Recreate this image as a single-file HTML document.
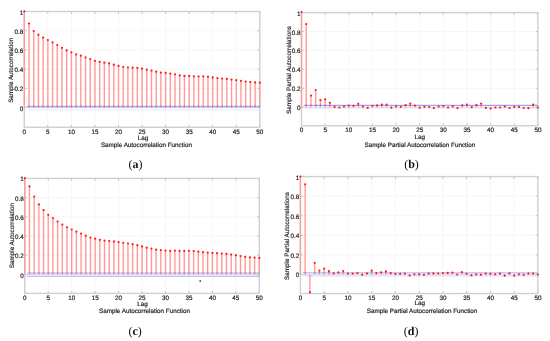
<!DOCTYPE html>
<html><head><meta charset="utf-8"><title>ACF PACF</title>
<style>
html,body{margin:0;padding:0;background:#fff;}
body{width:550px;height:341px;overflow:hidden;}
svg{display:block;text-rendering:geometricPrecision;filter:blur(0.25px);}
.gr{stroke:#f4f4f4;stroke-width:0.8;}
.tk{stroke:#b0b0b0;stroke-width:0.8;}
.bx{fill:none;stroke:#d0d0d0;stroke-width:1.4;}
.bl{stroke:#c8c8c8;stroke-width:0.6;}
.ub{stroke:#9a9aff;stroke-width:1;}
.lb{stroke:#d0d0ff;stroke-width:1;}
.st{stroke:#ff9a9a;stroke-width:1.4;}
.mk{fill:#ff1a1a;}
.t{font-family:"Liberation Sans",Arial,sans-serif;font-size:6.3px;fill:#222;stroke:#222;stroke-width:0.18px;}
.lt{font-family:"Liberation Serif","Times New Roman",serif;font-size:12px;fill:#111;}
</style></head>
<body><svg width="550" height="341" viewBox="0 0 550 341">
<rect width="550" height="341" fill="#fff"/>
<line class="gr" x1="47.85" y1="11.5" x2="47.85" y2="127.3"/>
<line class="gr" x1="71.4" y1="11.5" x2="71.4" y2="127.3"/>
<line class="gr" x1="94.95" y1="11.5" x2="94.95" y2="127.3"/>
<line class="gr" x1="118.5" y1="11.5" x2="118.5" y2="127.3"/>
<line class="gr" x1="142.05" y1="11.5" x2="142.05" y2="127.3"/>
<line class="gr" x1="165.6" y1="11.5" x2="165.6" y2="127.3"/>
<line class="gr" x1="189.15" y1="11.5" x2="189.15" y2="127.3"/>
<line class="gr" x1="212.7" y1="11.5" x2="212.7" y2="127.3"/>
<line class="gr" x1="236.25" y1="11.5" x2="236.25" y2="127.3"/>
<line class="gr" x1="24.3" y1="88.38" x2="259.8" y2="88.38"/>
<line class="gr" x1="24.3" y1="69.16" x2="259.8" y2="69.16"/>
<line class="gr" x1="24.3" y1="49.94" x2="259.8" y2="49.94"/>
<line class="gr" x1="24.3" y1="30.72" x2="259.8" y2="30.72"/>
<line class="tk" x1="24.3" y1="127.3" x2="24.3" y2="125"/>
<line class="tk" x1="24.3" y1="11.5" x2="24.3" y2="13.8"/>
<line class="tk" x1="47.85" y1="127.3" x2="47.85" y2="125"/>
<line class="tk" x1="47.85" y1="11.5" x2="47.85" y2="13.8"/>
<line class="tk" x1="71.4" y1="127.3" x2="71.4" y2="125"/>
<line class="tk" x1="71.4" y1="11.5" x2="71.4" y2="13.8"/>
<line class="tk" x1="94.95" y1="127.3" x2="94.95" y2="125"/>
<line class="tk" x1="94.95" y1="11.5" x2="94.95" y2="13.8"/>
<line class="tk" x1="118.5" y1="127.3" x2="118.5" y2="125"/>
<line class="tk" x1="118.5" y1="11.5" x2="118.5" y2="13.8"/>
<line class="tk" x1="142.05" y1="127.3" x2="142.05" y2="125"/>
<line class="tk" x1="142.05" y1="11.5" x2="142.05" y2="13.8"/>
<line class="tk" x1="165.6" y1="127.3" x2="165.6" y2="125"/>
<line class="tk" x1="165.6" y1="11.5" x2="165.6" y2="13.8"/>
<line class="tk" x1="189.15" y1="127.3" x2="189.15" y2="125"/>
<line class="tk" x1="189.15" y1="11.5" x2="189.15" y2="13.8"/>
<line class="tk" x1="212.7" y1="127.3" x2="212.7" y2="125"/>
<line class="tk" x1="212.7" y1="11.5" x2="212.7" y2="13.8"/>
<line class="tk" x1="236.25" y1="127.3" x2="236.25" y2="125"/>
<line class="tk" x1="236.25" y1="11.5" x2="236.25" y2="13.8"/>
<line class="tk" x1="259.8" y1="127.3" x2="259.8" y2="125"/>
<line class="tk" x1="259.8" y1="11.5" x2="259.8" y2="13.8"/>
<line class="tk" x1="24.3" y1="107.6" x2="26.6" y2="107.6"/>
<line class="tk" x1="259.8" y1="107.6" x2="257.5" y2="107.6"/>
<line class="tk" x1="24.3" y1="88.38" x2="26.6" y2="88.38"/>
<line class="tk" x1="259.8" y1="88.38" x2="257.5" y2="88.38"/>
<line class="tk" x1="24.3" y1="69.16" x2="26.6" y2="69.16"/>
<line class="tk" x1="259.8" y1="69.16" x2="257.5" y2="69.16"/>
<line class="tk" x1="24.3" y1="49.94" x2="26.6" y2="49.94"/>
<line class="tk" x1="259.8" y1="49.94" x2="257.5" y2="49.94"/>
<line class="tk" x1="24.3" y1="30.72" x2="26.6" y2="30.72"/>
<line class="tk" x1="259.8" y1="30.72" x2="257.5" y2="30.72"/>
<line class="tk" x1="24.3" y1="11.5" x2="26.6" y2="11.5"/>
<line class="tk" x1="259.8" y1="11.5" x2="257.5" y2="11.5"/>
<rect class="bx" x="24.3" y="11.5" width="235.5" height="115.8"/>
<line class="bl" x1="24.3" y1="107.6" x2="259.8" y2="107.6"/>
<line class="st" x1="24.3" y1="107.6" x2="24.3" y2="11.4"/>
<line class="st" x1="29.01" y1="107.6" x2="29.01" y2="23.5"/>
<line class="st" x1="33.72" y1="107.6" x2="33.72" y2="31"/>
<line class="st" x1="38.43" y1="107.6" x2="38.43" y2="34.7"/>
<line class="st" x1="43.14" y1="107.6" x2="43.14" y2="37.6"/>
<line class="st" x1="47.85" y1="107.6" x2="47.85" y2="40"/>
<line class="st" x1="52.56" y1="107.6" x2="52.56" y2="42.3"/>
<line class="st" x1="57.27" y1="107.6" x2="57.27" y2="45"/>
<line class="st" x1="61.98" y1="107.6" x2="61.98" y2="47.8"/>
<line class="st" x1="66.69" y1="107.6" x2="66.69" y2="50.4"/>
<line class="st" x1="71.4" y1="107.6" x2="71.4" y2="52.3"/>
<line class="st" x1="76.11" y1="107.6" x2="76.11" y2="54.3"/>
<line class="st" x1="80.82" y1="107.6" x2="80.82" y2="55.7"/>
<line class="st" x1="85.53" y1="107.6" x2="85.53" y2="57.3"/>
<line class="st" x1="90.24" y1="107.6" x2="90.24" y2="59"/>
<line class="st" x1="94.95" y1="107.6" x2="94.95" y2="60.8"/>
<line class="st" x1="99.66" y1="107.6" x2="99.66" y2="61.8"/>
<line class="st" x1="104.37" y1="107.6" x2="104.37" y2="62.7"/>
<line class="st" x1="109.08" y1="107.6" x2="109.08" y2="63.4"/>
<line class="st" x1="113.79" y1="107.6" x2="113.79" y2="64.7"/>
<line class="st" x1="118.5" y1="107.6" x2="118.5" y2="65.9"/>
<line class="st" x1="123.21" y1="107.6" x2="123.21" y2="67"/>
<line class="st" x1="127.92" y1="107.6" x2="127.92" y2="67.5"/>
<line class="st" x1="132.63" y1="107.6" x2="132.63" y2="67.7"/>
<line class="st" x1="137.34" y1="107.6" x2="137.34" y2="67.8"/>
<line class="st" x1="142.05" y1="107.6" x2="142.05" y2="68.7"/>
<line class="st" x1="146.76" y1="107.6" x2="146.76" y2="69.7"/>
<line class="st" x1="151.47" y1="107.6" x2="151.47" y2="70.6"/>
<line class="st" x1="156.18" y1="107.6" x2="156.18" y2="71.7"/>
<line class="st" x1="160.89" y1="107.6" x2="160.89" y2="72.6"/>
<line class="st" x1="165.6" y1="107.6" x2="165.6" y2="72.9"/>
<line class="st" x1="170.31" y1="107.6" x2="170.31" y2="73.6"/>
<line class="st" x1="175.02" y1="107.6" x2="175.02" y2="74.3"/>
<line class="st" x1="179.73" y1="107.6" x2="179.73" y2="75.4"/>
<line class="st" x1="184.44" y1="107.6" x2="184.44" y2="75.9"/>
<line class="st" x1="189.15" y1="107.6" x2="189.15" y2="75.9"/>
<line class="st" x1="193.86" y1="107.6" x2="193.86" y2="76.3"/>
<line class="st" x1="198.57" y1="107.6" x2="198.57" y2="76.5"/>
<line class="st" x1="203.28" y1="107.6" x2="203.28" y2="76.3"/>
<line class="st" x1="207.99" y1="107.6" x2="207.99" y2="76.7"/>
<line class="st" x1="212.7" y1="107.6" x2="212.7" y2="77.4"/>
<line class="st" x1="217.41" y1="107.6" x2="217.41" y2="78.1"/>
<line class="st" x1="222.12" y1="107.6" x2="222.12" y2="78.5"/>
<line class="st" x1="226.83" y1="107.6" x2="226.83" y2="78.9"/>
<line class="st" x1="231.54" y1="107.6" x2="231.54" y2="79.6"/>
<line class="st" x1="236.25" y1="107.6" x2="236.25" y2="80.2"/>
<line class="st" x1="240.96" y1="107.6" x2="240.96" y2="80.8"/>
<line class="st" x1="245.67" y1="107.6" x2="245.67" y2="81.5"/>
<line class="st" x1="250.38" y1="107.6" x2="250.38" y2="82.1"/>
<line class="st" x1="255.09" y1="107.6" x2="255.09" y2="82.4"/>
<line class="st" x1="259.8" y1="107.6" x2="259.8" y2="82.7"/>
<line style="mix-blend-mode:multiply" stroke="#b0b0ff" stroke-width="1.3" x1="26.66" y1="106.5" x2="259.8" y2="106.5"/>
<line style="mix-blend-mode:multiply" stroke="#ececff" stroke-width="1.2" x1="26.66" y1="109.8" x2="259.8" y2="109.8"/>
<circle class="mk" cx="24.3" cy="11.4" r="1.1"/>
<circle class="mk" cx="29.01" cy="23.5" r="1.1"/>
<circle class="mk" cx="33.72" cy="31" r="1.1"/>
<circle class="mk" cx="38.43" cy="34.7" r="1.1"/>
<circle class="mk" cx="43.14" cy="37.6" r="1.1"/>
<circle class="mk" cx="47.85" cy="40" r="1.1"/>
<circle class="mk" cx="52.56" cy="42.3" r="1.1"/>
<circle class="mk" cx="57.27" cy="45" r="1.1"/>
<circle class="mk" cx="61.98" cy="47.8" r="1.1"/>
<circle class="mk" cx="66.69" cy="50.4" r="1.1"/>
<circle class="mk" cx="71.4" cy="52.3" r="1.1"/>
<circle class="mk" cx="76.11" cy="54.3" r="1.1"/>
<circle class="mk" cx="80.82" cy="55.7" r="1.1"/>
<circle class="mk" cx="85.53" cy="57.3" r="1.1"/>
<circle class="mk" cx="90.24" cy="59" r="1.1"/>
<circle class="mk" cx="94.95" cy="60.8" r="1.1"/>
<circle class="mk" cx="99.66" cy="61.8" r="1.1"/>
<circle class="mk" cx="104.37" cy="62.7" r="1.1"/>
<circle class="mk" cx="109.08" cy="63.4" r="1.1"/>
<circle class="mk" cx="113.79" cy="64.7" r="1.1"/>
<circle class="mk" cx="118.5" cy="65.9" r="1.1"/>
<circle class="mk" cx="123.21" cy="67" r="1.1"/>
<circle class="mk" cx="127.92" cy="67.5" r="1.1"/>
<circle class="mk" cx="132.63" cy="67.7" r="1.1"/>
<circle class="mk" cx="137.34" cy="67.8" r="1.1"/>
<circle class="mk" cx="142.05" cy="68.7" r="1.1"/>
<circle class="mk" cx="146.76" cy="69.7" r="1.1"/>
<circle class="mk" cx="151.47" cy="70.6" r="1.1"/>
<circle class="mk" cx="156.18" cy="71.7" r="1.1"/>
<circle class="mk" cx="160.89" cy="72.6" r="1.1"/>
<circle class="mk" cx="165.6" cy="72.9" r="1.1"/>
<circle class="mk" cx="170.31" cy="73.6" r="1.1"/>
<circle class="mk" cx="175.02" cy="74.3" r="1.1"/>
<circle class="mk" cx="179.73" cy="75.4" r="1.1"/>
<circle class="mk" cx="184.44" cy="75.9" r="1.1"/>
<circle class="mk" cx="189.15" cy="75.9" r="1.1"/>
<circle class="mk" cx="193.86" cy="76.3" r="1.1"/>
<circle class="mk" cx="198.57" cy="76.5" r="1.1"/>
<circle class="mk" cx="203.28" cy="76.3" r="1.1"/>
<circle class="mk" cx="207.99" cy="76.7" r="1.1"/>
<circle class="mk" cx="212.7" cy="77.4" r="1.1"/>
<circle class="mk" cx="217.41" cy="78.1" r="1.1"/>
<circle class="mk" cx="222.12" cy="78.5" r="1.1"/>
<circle class="mk" cx="226.83" cy="78.9" r="1.1"/>
<circle class="mk" cx="231.54" cy="79.6" r="1.1"/>
<circle class="mk" cx="236.25" cy="80.2" r="1.1"/>
<circle class="mk" cx="240.96" cy="80.8" r="1.1"/>
<circle class="mk" cx="245.67" cy="81.5" r="1.1"/>
<circle class="mk" cx="250.38" cy="82.1" r="1.1"/>
<circle class="mk" cx="255.09" cy="82.4" r="1.1"/>
<circle class="mk" cx="259.8" cy="82.7" r="1.1"/>
<text class="t" x="23.2" y="110.6" text-anchor="end">0</text>
<text class="t" x="23.2" y="91.38" text-anchor="end">0.2</text>
<text class="t" x="23.2" y="72.16" text-anchor="end">0.4</text>
<text class="t" x="23.2" y="52.94" text-anchor="end">0.6</text>
<text class="t" x="23.2" y="33.72" text-anchor="end">0.8</text>
<text class="t" x="23.2" y="14.5" text-anchor="end">1</text>
<text class="t" x="24.3" y="133.5" text-anchor="middle">0</text>
<text class="t" x="47.85" y="133.5" text-anchor="middle">5</text>
<text class="t" x="71.4" y="133.5" text-anchor="middle">10</text>
<text class="t" x="94.95" y="133.5" text-anchor="middle">15</text>
<text class="t" x="118.5" y="133.5" text-anchor="middle">20</text>
<text class="t" x="142.05" y="133.5" text-anchor="middle">25</text>
<text class="t" x="165.6" y="133.5" text-anchor="middle">30</text>
<text class="t" x="189.15" y="133.5" text-anchor="middle">35</text>
<text class="t" x="212.7" y="133.5" text-anchor="middle">40</text>
<text class="t" x="236.25" y="133.5" text-anchor="middle">45</text>
<text class="t" x="259.8" y="133.5" text-anchor="middle">50</text>
<text class="t" x="142.9" y="139.8" text-anchor="middle">Lag</text>
<text class="t" x="146.4" y="147.4" text-anchor="middle">Sample Autocorrelation Function</text>
<text class="t" transform="translate(13.4 70.3) rotate(-90)" text-anchor="middle">Sample Autocorrelation</text>
<text class="lt" x="135.4" y="167.5" text-anchor="middle">(<tspan font-weight="bold">a</tspan>)</text>
<line class="gr" x1="325.14" y1="12.6" x2="325.14" y2="125.8"/>
<line class="gr" x1="348.78" y1="12.6" x2="348.78" y2="125.8"/>
<line class="gr" x1="372.42" y1="12.6" x2="372.42" y2="125.8"/>
<line class="gr" x1="396.06" y1="12.6" x2="396.06" y2="125.8"/>
<line class="gr" x1="419.7" y1="12.6" x2="419.7" y2="125.8"/>
<line class="gr" x1="443.34" y1="12.6" x2="443.34" y2="125.8"/>
<line class="gr" x1="466.98" y1="12.6" x2="466.98" y2="125.8"/>
<line class="gr" x1="490.62" y1="12.6" x2="490.62" y2="125.8"/>
<line class="gr" x1="514.26" y1="12.6" x2="514.26" y2="125.8"/>
<line class="gr" x1="301.5" y1="88.28" x2="537.9" y2="88.28"/>
<line class="gr" x1="301.5" y1="69.36" x2="537.9" y2="69.36"/>
<line class="gr" x1="301.5" y1="50.44" x2="537.9" y2="50.44"/>
<line class="gr" x1="301.5" y1="31.52" x2="537.9" y2="31.52"/>
<line class="tk" x1="301.5" y1="125.8" x2="301.5" y2="123.5"/>
<line class="tk" x1="301.5" y1="12.6" x2="301.5" y2="14.9"/>
<line class="tk" x1="325.14" y1="125.8" x2="325.14" y2="123.5"/>
<line class="tk" x1="325.14" y1="12.6" x2="325.14" y2="14.9"/>
<line class="tk" x1="348.78" y1="125.8" x2="348.78" y2="123.5"/>
<line class="tk" x1="348.78" y1="12.6" x2="348.78" y2="14.9"/>
<line class="tk" x1="372.42" y1="125.8" x2="372.42" y2="123.5"/>
<line class="tk" x1="372.42" y1="12.6" x2="372.42" y2="14.9"/>
<line class="tk" x1="396.06" y1="125.8" x2="396.06" y2="123.5"/>
<line class="tk" x1="396.06" y1="12.6" x2="396.06" y2="14.9"/>
<line class="tk" x1="419.7" y1="125.8" x2="419.7" y2="123.5"/>
<line class="tk" x1="419.7" y1="12.6" x2="419.7" y2="14.9"/>
<line class="tk" x1="443.34" y1="125.8" x2="443.34" y2="123.5"/>
<line class="tk" x1="443.34" y1="12.6" x2="443.34" y2="14.9"/>
<line class="tk" x1="466.98" y1="125.8" x2="466.98" y2="123.5"/>
<line class="tk" x1="466.98" y1="12.6" x2="466.98" y2="14.9"/>
<line class="tk" x1="490.62" y1="125.8" x2="490.62" y2="123.5"/>
<line class="tk" x1="490.62" y1="12.6" x2="490.62" y2="14.9"/>
<line class="tk" x1="514.26" y1="125.8" x2="514.26" y2="123.5"/>
<line class="tk" x1="514.26" y1="12.6" x2="514.26" y2="14.9"/>
<line class="tk" x1="537.9" y1="125.8" x2="537.9" y2="123.5"/>
<line class="tk" x1="537.9" y1="12.6" x2="537.9" y2="14.9"/>
<line class="tk" x1="301.5" y1="107.2" x2="303.8" y2="107.2"/>
<line class="tk" x1="537.9" y1="107.2" x2="535.6" y2="107.2"/>
<line class="tk" x1="301.5" y1="88.28" x2="303.8" y2="88.28"/>
<line class="tk" x1="537.9" y1="88.28" x2="535.6" y2="88.28"/>
<line class="tk" x1="301.5" y1="69.36" x2="303.8" y2="69.36"/>
<line class="tk" x1="537.9" y1="69.36" x2="535.6" y2="69.36"/>
<line class="tk" x1="301.5" y1="50.44" x2="303.8" y2="50.44"/>
<line class="tk" x1="537.9" y1="50.44" x2="535.6" y2="50.44"/>
<line class="tk" x1="301.5" y1="31.52" x2="303.8" y2="31.52"/>
<line class="tk" x1="537.9" y1="31.52" x2="535.6" y2="31.52"/>
<line class="tk" x1="301.5" y1="12.6" x2="303.8" y2="12.6"/>
<line class="tk" x1="537.9" y1="12.6" x2="535.6" y2="12.6"/>
<rect class="bx" x="301.5" y="12.6" width="236.4" height="113.2"/>
<line class="bl" x1="301.5" y1="107.2" x2="537.9" y2="107.2"/>
<line class="st" x1="301.5" y1="107.2" x2="301.5" y2="12"/>
<line class="st" x1="306.23" y1="107.2" x2="306.23" y2="24.1"/>
<line class="st" x1="310.96" y1="107.2" x2="310.96" y2="95.6"/>
<line class="st" x1="315.68" y1="107.2" x2="315.68" y2="90"/>
<line class="st" x1="320.41" y1="107.2" x2="320.41" y2="100.1"/>
<line class="st" x1="325.14" y1="107.2" x2="325.14" y2="99.3"/>
<line class="st" x1="329.87" y1="107.2" x2="329.87" y2="102.8"/>
<line class="st" x1="334.6" y1="107.2" x2="334.6" y2="106.9"/>
<line class="st" x1="339.32" y1="107.2" x2="339.32" y2="107.5"/>
<line class="st" x1="344.05" y1="107.2" x2="344.05" y2="106.5"/>
<line class="st" x1="348.78" y1="107.2" x2="348.78" y2="105.6"/>
<line class="st" x1="353.51" y1="107.2" x2="353.51" y2="105.8"/>
<line class="st" x1="358.24" y1="107.2" x2="358.24" y2="103.8"/>
<line class="st" x1="362.96" y1="107.2" x2="362.96" y2="106.5"/>
<line class="st" x1="367.69" y1="107.2" x2="367.69" y2="107.9"/>
<line class="st" x1="372.42" y1="107.2" x2="372.42" y2="105.8"/>
<line class="st" x1="377.15" y1="107.2" x2="377.15" y2="105.4"/>
<line class="st" x1="381.88" y1="107.2" x2="381.88" y2="104.7"/>
<line class="st" x1="386.6" y1="107.2" x2="386.6" y2="104.6"/>
<line class="st" x1="391.33" y1="107.2" x2="391.33" y2="107.7"/>
<line class="st" x1="396.06" y1="107.2" x2="396.06" y2="106.4"/>
<line class="st" x1="400.79" y1="107.2" x2="400.79" y2="106.8"/>
<line class="st" x1="405.52" y1="107.2" x2="405.52" y2="105.2"/>
<line class="st" x1="410.24" y1="107.2" x2="410.24" y2="103.6"/>
<line class="st" x1="414.97" y1="107.2" x2="414.97" y2="105.5"/>
<line class="st" x1="419.7" y1="107.2" x2="419.7" y2="107.7"/>
<line class="st" x1="424.43" y1="107.2" x2="424.43" y2="106.8"/>
<line class="st" x1="429.16" y1="107.2" x2="429.16" y2="107"/>
<line class="st" x1="433.88" y1="107.2" x2="433.88" y2="108.1"/>
<line class="st" x1="438.61" y1="107.2" x2="438.61" y2="106.5"/>
<line class="st" x1="443.34" y1="107.2" x2="443.34" y2="106.1"/>
<line class="st" x1="448.07" y1="107.2" x2="448.07" y2="107.5"/>
<line class="st" x1="452.8" y1="107.2" x2="452.8" y2="106.3"/>
<line class="st" x1="457.52" y1="107.2" x2="457.52" y2="108.1"/>
<line class="st" x1="462.25" y1="107.2" x2="462.25" y2="105.4"/>
<line class="st" x1="466.98" y1="107.2" x2="466.98" y2="104.5"/>
<line class="st" x1="471.71" y1="107.2" x2="471.71" y2="107.2"/>
<line class="st" x1="476.44" y1="107.2" x2="476.44" y2="105.2"/>
<line class="st" x1="481.16" y1="107.2" x2="481.16" y2="103.6"/>
<line class="st" x1="485.89" y1="107.2" x2="485.89" y2="107.9"/>
<line class="st" x1="490.62" y1="107.2" x2="490.62" y2="108.6"/>
<line class="st" x1="495.35" y1="107.2" x2="495.35" y2="107.5"/>
<line class="st" x1="500.08" y1="107.2" x2="500.08" y2="107.5"/>
<line class="st" x1="504.8" y1="107.2" x2="504.8" y2="106.5"/>
<line class="st" x1="509.53" y1="107.2" x2="509.53" y2="108.1"/>
<line class="st" x1="514.26" y1="107.2" x2="514.26" y2="106.9"/>
<line class="st" x1="518.99" y1="107.2" x2="518.99" y2="106.9"/>
<line class="st" x1="523.72" y1="107.2" x2="523.72" y2="108"/>
<line class="st" x1="528.44" y1="107.2" x2="528.44" y2="108.2"/>
<line class="st" x1="533.17" y1="107.2" x2="533.17" y2="104.7"/>
<line class="st" x1="537.9" y1="107.2" x2="537.9" y2="107.5"/>
<line style="mix-blend-mode:multiply" stroke="#a0a0ff" stroke-width="1.2" x1="303.86" y1="105.35" x2="537.9" y2="105.35"/>
<line style="mix-blend-mode:multiply" stroke="#ececff" stroke-width="1.2" x1="303.86" y1="108.3" x2="537.9" y2="108.3"/>
<circle class="mk" cx="301.5" cy="12" r="1.1"/>
<circle class="mk" cx="306.23" cy="24.1" r="1.1"/>
<circle class="mk" cx="310.96" cy="95.6" r="1.1"/>
<circle class="mk" cx="315.68" cy="90" r="1.1"/>
<circle class="mk" cx="320.41" cy="100.1" r="1.1"/>
<circle class="mk" cx="325.14" cy="99.3" r="1.1"/>
<circle class="mk" cx="329.87" cy="102.8" r="1.1"/>
<circle class="mk" cx="334.6" cy="106.9" r="1.1"/>
<circle class="mk" cx="339.32" cy="107.5" r="1.1"/>
<circle class="mk" cx="344.05" cy="106.5" r="1.1"/>
<circle class="mk" cx="348.78" cy="105.6" r="1.1"/>
<circle class="mk" cx="353.51" cy="105.8" r="1.1"/>
<circle class="mk" cx="358.24" cy="103.8" r="1.1"/>
<circle class="mk" cx="362.96" cy="106.5" r="1.1"/>
<circle class="mk" cx="367.69" cy="107.9" r="1.1"/>
<circle class="mk" cx="372.42" cy="105.8" r="1.1"/>
<circle class="mk" cx="377.15" cy="105.4" r="1.1"/>
<circle class="mk" cx="381.88" cy="104.7" r="1.1"/>
<circle class="mk" cx="386.6" cy="104.6" r="1.1"/>
<circle class="mk" cx="391.33" cy="107.7" r="1.1"/>
<circle class="mk" cx="396.06" cy="106.4" r="1.1"/>
<circle class="mk" cx="400.79" cy="106.8" r="1.1"/>
<circle class="mk" cx="405.52" cy="105.2" r="1.1"/>
<circle class="mk" cx="410.24" cy="103.6" r="1.1"/>
<circle class="mk" cx="414.97" cy="105.5" r="1.1"/>
<circle class="mk" cx="419.7" cy="107.7" r="1.1"/>
<circle class="mk" cx="424.43" cy="106.8" r="1.1"/>
<circle class="mk" cx="429.16" cy="107" r="1.1"/>
<circle class="mk" cx="433.88" cy="108.1" r="1.1"/>
<circle class="mk" cx="438.61" cy="106.5" r="1.1"/>
<circle class="mk" cx="443.34" cy="106.1" r="1.1"/>
<circle class="mk" cx="448.07" cy="107.5" r="1.1"/>
<circle class="mk" cx="452.8" cy="106.3" r="1.1"/>
<circle class="mk" cx="457.52" cy="108.1" r="1.1"/>
<circle class="mk" cx="462.25" cy="105.4" r="1.1"/>
<circle class="mk" cx="466.98" cy="104.5" r="1.1"/>
<circle class="mk" cx="471.71" cy="107.2" r="1.1"/>
<circle class="mk" cx="476.44" cy="105.2" r="1.1"/>
<circle class="mk" cx="481.16" cy="103.6" r="1.1"/>
<circle class="mk" cx="485.89" cy="107.9" r="1.1"/>
<circle class="mk" cx="490.62" cy="108.6" r="1.1"/>
<circle class="mk" cx="495.35" cy="107.5" r="1.1"/>
<circle class="mk" cx="500.08" cy="107.5" r="1.1"/>
<circle class="mk" cx="504.8" cy="106.5" r="1.1"/>
<circle class="mk" cx="509.53" cy="108.1" r="1.1"/>
<circle class="mk" cx="514.26" cy="106.9" r="1.1"/>
<circle class="mk" cx="518.99" cy="106.9" r="1.1"/>
<circle class="mk" cx="523.72" cy="108" r="1.1"/>
<circle class="mk" cx="528.44" cy="108.2" r="1.1"/>
<circle class="mk" cx="533.17" cy="104.7" r="1.1"/>
<circle class="mk" cx="537.9" cy="107.5" r="1.1"/>
<text class="t" x="300.4" y="110.2" text-anchor="end">0</text>
<text class="t" x="300.4" y="91.28" text-anchor="end">0.2</text>
<text class="t" x="300.4" y="72.36" text-anchor="end">0.4</text>
<text class="t" x="300.4" y="53.44" text-anchor="end">0.6</text>
<text class="t" x="300.4" y="34.52" text-anchor="end">0.8</text>
<text class="t" x="300.4" y="15.6" text-anchor="end">1</text>
<text class="t" x="301.5" y="131.7" text-anchor="middle">0</text>
<text class="t" x="325.14" y="131.7" text-anchor="middle">5</text>
<text class="t" x="348.78" y="131.7" text-anchor="middle">10</text>
<text class="t" x="372.42" y="131.7" text-anchor="middle">15</text>
<text class="t" x="396.06" y="131.7" text-anchor="middle">20</text>
<text class="t" x="419.7" y="131.7" text-anchor="middle">25</text>
<text class="t" x="443.34" y="131.7" text-anchor="middle">30</text>
<text class="t" x="466.98" y="131.7" text-anchor="middle">35</text>
<text class="t" x="490.62" y="131.7" text-anchor="middle">40</text>
<text class="t" x="514.26" y="131.7" text-anchor="middle">45</text>
<text class="t" x="537.9" y="131.7" text-anchor="middle">50</text>
<text class="t" x="419.8" y="138.7" text-anchor="middle">Lag</text>
<text class="t" x="419.9" y="147.4" text-anchor="middle">Sample Partial Autocorrelation Function</text>
<text class="t" transform="translate(290.6 70.1) rotate(-90)" text-anchor="middle">Sample Partial Autocorrelations</text>
<text class="lt" x="411.5" y="167.5" text-anchor="middle">(<tspan font-weight="bold">b</tspan>)</text>
<line class="gr" x1="48.25" y1="178.4" x2="48.25" y2="293.4"/>
<line class="gr" x1="71.7" y1="178.4" x2="71.7" y2="293.4"/>
<line class="gr" x1="95.15" y1="178.4" x2="95.15" y2="293.4"/>
<line class="gr" x1="118.6" y1="178.4" x2="118.6" y2="293.4"/>
<line class="gr" x1="142.05" y1="178.4" x2="142.05" y2="293.4"/>
<line class="gr" x1="165.5" y1="178.4" x2="165.5" y2="293.4"/>
<line class="gr" x1="188.95" y1="178.4" x2="188.95" y2="293.4"/>
<line class="gr" x1="212.4" y1="178.4" x2="212.4" y2="293.4"/>
<line class="gr" x1="235.85" y1="178.4" x2="235.85" y2="293.4"/>
<line class="gr" x1="24.8" y1="255.28" x2="259.3" y2="255.28"/>
<line class="gr" x1="24.8" y1="236.06" x2="259.3" y2="236.06"/>
<line class="gr" x1="24.8" y1="216.84" x2="259.3" y2="216.84"/>
<line class="gr" x1="24.8" y1="197.62" x2="259.3" y2="197.62"/>
<line class="tk" x1="24.8" y1="293.4" x2="24.8" y2="291.1"/>
<line class="tk" x1="24.8" y1="178.4" x2="24.8" y2="180.7"/>
<line class="tk" x1="48.25" y1="293.4" x2="48.25" y2="291.1"/>
<line class="tk" x1="48.25" y1="178.4" x2="48.25" y2="180.7"/>
<line class="tk" x1="71.7" y1="293.4" x2="71.7" y2="291.1"/>
<line class="tk" x1="71.7" y1="178.4" x2="71.7" y2="180.7"/>
<line class="tk" x1="95.15" y1="293.4" x2="95.15" y2="291.1"/>
<line class="tk" x1="95.15" y1="178.4" x2="95.15" y2="180.7"/>
<line class="tk" x1="118.6" y1="293.4" x2="118.6" y2="291.1"/>
<line class="tk" x1="118.6" y1="178.4" x2="118.6" y2="180.7"/>
<line class="tk" x1="142.05" y1="293.4" x2="142.05" y2="291.1"/>
<line class="tk" x1="142.05" y1="178.4" x2="142.05" y2="180.7"/>
<line class="tk" x1="165.5" y1="293.4" x2="165.5" y2="291.1"/>
<line class="tk" x1="165.5" y1="178.4" x2="165.5" y2="180.7"/>
<line class="tk" x1="188.95" y1="293.4" x2="188.95" y2="291.1"/>
<line class="tk" x1="188.95" y1="178.4" x2="188.95" y2="180.7"/>
<line class="tk" x1="212.4" y1="293.4" x2="212.4" y2="291.1"/>
<line class="tk" x1="212.4" y1="178.4" x2="212.4" y2="180.7"/>
<line class="tk" x1="235.85" y1="293.4" x2="235.85" y2="291.1"/>
<line class="tk" x1="235.85" y1="178.4" x2="235.85" y2="180.7"/>
<line class="tk" x1="259.3" y1="293.4" x2="259.3" y2="291.1"/>
<line class="tk" x1="259.3" y1="178.4" x2="259.3" y2="180.7"/>
<line class="tk" x1="24.8" y1="274.5" x2="27.1" y2="274.5"/>
<line class="tk" x1="259.3" y1="274.5" x2="257" y2="274.5"/>
<line class="tk" x1="24.8" y1="255.28" x2="27.1" y2="255.28"/>
<line class="tk" x1="259.3" y1="255.28" x2="257" y2="255.28"/>
<line class="tk" x1="24.8" y1="236.06" x2="27.1" y2="236.06"/>
<line class="tk" x1="259.3" y1="236.06" x2="257" y2="236.06"/>
<line class="tk" x1="24.8" y1="216.84" x2="27.1" y2="216.84"/>
<line class="tk" x1="259.3" y1="216.84" x2="257" y2="216.84"/>
<line class="tk" x1="24.8" y1="197.62" x2="27.1" y2="197.62"/>
<line class="tk" x1="259.3" y1="197.62" x2="257" y2="197.62"/>
<line class="tk" x1="24.8" y1="178.4" x2="27.1" y2="178.4"/>
<line class="tk" x1="259.3" y1="178.4" x2="257" y2="178.4"/>
<rect class="bx" x="24.8" y="178.4" width="234.5" height="115"/>
<line class="bl" x1="24.8" y1="274.5" x2="259.3" y2="274.5"/>
<line class="st" x1="24.8" y1="274.5" x2="24.8" y2="178.2"/>
<line class="st" x1="29.49" y1="274.5" x2="29.49" y2="186.4"/>
<line class="st" x1="34.18" y1="274.5" x2="34.18" y2="196.6"/>
<line class="st" x1="38.87" y1="274.5" x2="38.87" y2="204.4"/>
<line class="st" x1="43.56" y1="274.5" x2="43.56" y2="210.2"/>
<line class="st" x1="48.25" y1="274.5" x2="48.25" y2="214.8"/>
<line class="st" x1="52.94" y1="274.5" x2="52.94" y2="218.1"/>
<line class="st" x1="57.63" y1="274.5" x2="57.63" y2="221.5"/>
<line class="st" x1="62.32" y1="274.5" x2="62.32" y2="224.6"/>
<line class="st" x1="67.01" y1="274.5" x2="67.01" y2="227.3"/>
<line class="st" x1="71.7" y1="274.5" x2="71.7" y2="229.5"/>
<line class="st" x1="76.39" y1="274.5" x2="76.39" y2="231.7"/>
<line class="st" x1="81.08" y1="274.5" x2="81.08" y2="233.6"/>
<line class="st" x1="85.77" y1="274.5" x2="85.77" y2="235.7"/>
<line class="st" x1="90.46" y1="274.5" x2="90.46" y2="237.5"/>
<line class="st" x1="95.15" y1="274.5" x2="95.15" y2="238.7"/>
<line class="st" x1="99.84" y1="274.5" x2="99.84" y2="239.8"/>
<line class="st" x1="104.53" y1="274.5" x2="104.53" y2="240.6"/>
<line class="st" x1="109.22" y1="274.5" x2="109.22" y2="241"/>
<line class="st" x1="113.91" y1="274.5" x2="113.91" y2="241.4"/>
<line class="st" x1="118.6" y1="274.5" x2="118.6" y2="242.1"/>
<line class="st" x1="123.29" y1="274.5" x2="123.29" y2="242.8"/>
<line class="st" x1="127.98" y1="274.5" x2="127.98" y2="243.5"/>
<line class="st" x1="132.67" y1="274.5" x2="132.67" y2="244.2"/>
<line class="st" x1="137.36" y1="274.5" x2="137.36" y2="245.2"/>
<line class="st" x1="142.05" y1="274.5" x2="142.05" y2="246.4"/>
<line class="st" x1="146.74" y1="274.5" x2="146.74" y2="247.7"/>
<line class="st" x1="151.43" y1="274.5" x2="151.43" y2="248.5"/>
<line class="st" x1="156.12" y1="274.5" x2="156.12" y2="249.6"/>
<line class="st" x1="160.81" y1="274.5" x2="160.81" y2="250.1"/>
<line class="st" x1="165.5" y1="274.5" x2="165.5" y2="250.6"/>
<line class="st" x1="170.19" y1="274.5" x2="170.19" y2="250.8"/>
<line class="st" x1="174.88" y1="274.5" x2="174.88" y2="250.6"/>
<line class="st" x1="179.57" y1="274.5" x2="179.57" y2="250.8"/>
<line class="st" x1="184.26" y1="274.5" x2="184.26" y2="250.9"/>
<line class="st" x1="188.95" y1="274.5" x2="188.95" y2="250.8"/>
<line class="st" x1="193.64" y1="274.5" x2="193.64" y2="251.1"/>
<line class="st" x1="198.33" y1="274.5" x2="198.33" y2="251.7"/>
<line class="st" x1="203.02" y1="274.5" x2="203.02" y2="252.2"/>
<line class="st" x1="207.71" y1="274.5" x2="207.71" y2="252.6"/>
<line class="st" x1="212.4" y1="274.5" x2="212.4" y2="252.9"/>
<line class="st" x1="217.09" y1="274.5" x2="217.09" y2="253.2"/>
<line class="st" x1="221.78" y1="274.5" x2="221.78" y2="253.5"/>
<line class="st" x1="226.47" y1="274.5" x2="226.47" y2="253.9"/>
<line class="st" x1="231.16" y1="274.5" x2="231.16" y2="254.6"/>
<line class="st" x1="235.85" y1="274.5" x2="235.85" y2="255.2"/>
<line class="st" x1="240.54" y1="274.5" x2="240.54" y2="256"/>
<line class="st" x1="245.23" y1="274.5" x2="245.23" y2="256.8"/>
<line class="st" x1="249.92" y1="274.5" x2="249.92" y2="257.3"/>
<line class="st" x1="254.61" y1="274.5" x2="254.61" y2="257.6"/>
<line class="st" x1="259.3" y1="274.5" x2="259.3" y2="257.9"/>
<line style="mix-blend-mode:multiply" stroke="#d4d4ff" stroke-width="2.0" x1="27.14" y1="273" x2="259.3" y2="273"/>
<line style="mix-blend-mode:multiply" stroke="#a8a8ff" stroke-width="1.1" x1="27.14" y1="276.2" x2="259.3" y2="276.2"/>
<circle class="mk" cx="24.8" cy="178.2" r="1.1"/>
<circle class="mk" cx="29.49" cy="186.4" r="1.1"/>
<circle class="mk" cx="34.18" cy="196.6" r="1.1"/>
<circle class="mk" cx="38.87" cy="204.4" r="1.1"/>
<circle class="mk" cx="43.56" cy="210.2" r="1.1"/>
<circle class="mk" cx="48.25" cy="214.8" r="1.1"/>
<circle class="mk" cx="52.94" cy="218.1" r="1.1"/>
<circle class="mk" cx="57.63" cy="221.5" r="1.1"/>
<circle class="mk" cx="62.32" cy="224.6" r="1.1"/>
<circle class="mk" cx="67.01" cy="227.3" r="1.1"/>
<circle class="mk" cx="71.7" cy="229.5" r="1.1"/>
<circle class="mk" cx="76.39" cy="231.7" r="1.1"/>
<circle class="mk" cx="81.08" cy="233.6" r="1.1"/>
<circle class="mk" cx="85.77" cy="235.7" r="1.1"/>
<circle class="mk" cx="90.46" cy="237.5" r="1.1"/>
<circle class="mk" cx="95.15" cy="238.7" r="1.1"/>
<circle class="mk" cx="99.84" cy="239.8" r="1.1"/>
<circle class="mk" cx="104.53" cy="240.6" r="1.1"/>
<circle class="mk" cx="109.22" cy="241" r="1.1"/>
<circle class="mk" cx="113.91" cy="241.4" r="1.1"/>
<circle class="mk" cx="118.6" cy="242.1" r="1.1"/>
<circle class="mk" cx="123.29" cy="242.8" r="1.1"/>
<circle class="mk" cx="127.98" cy="243.5" r="1.1"/>
<circle class="mk" cx="132.67" cy="244.2" r="1.1"/>
<circle class="mk" cx="137.36" cy="245.2" r="1.1"/>
<circle class="mk" cx="142.05" cy="246.4" r="1.1"/>
<circle class="mk" cx="146.74" cy="247.7" r="1.1"/>
<circle class="mk" cx="151.43" cy="248.5" r="1.1"/>
<circle class="mk" cx="156.12" cy="249.6" r="1.1"/>
<circle class="mk" cx="160.81" cy="250.1" r="1.1"/>
<circle class="mk" cx="165.5" cy="250.6" r="1.1"/>
<circle class="mk" cx="170.19" cy="250.8" r="1.1"/>
<circle class="mk" cx="174.88" cy="250.6" r="1.1"/>
<circle class="mk" cx="179.57" cy="250.8" r="1.1"/>
<circle class="mk" cx="184.26" cy="250.9" r="1.1"/>
<circle class="mk" cx="188.95" cy="250.8" r="1.1"/>
<circle class="mk" cx="193.64" cy="251.1" r="1.1"/>
<circle class="mk" cx="198.33" cy="251.7" r="1.1"/>
<circle class="mk" cx="203.02" cy="252.2" r="1.1"/>
<circle class="mk" cx="207.71" cy="252.6" r="1.1"/>
<circle class="mk" cx="212.4" cy="252.9" r="1.1"/>
<circle class="mk" cx="217.09" cy="253.2" r="1.1"/>
<circle class="mk" cx="221.78" cy="253.5" r="1.1"/>
<circle class="mk" cx="226.47" cy="253.9" r="1.1"/>
<circle class="mk" cx="231.16" cy="254.6" r="1.1"/>
<circle class="mk" cx="235.85" cy="255.2" r="1.1"/>
<circle class="mk" cx="240.54" cy="256" r="1.1"/>
<circle class="mk" cx="245.23" cy="256.8" r="1.1"/>
<circle class="mk" cx="249.92" cy="257.3" r="1.1"/>
<circle class="mk" cx="254.61" cy="257.6" r="1.1"/>
<circle class="mk" cx="259.3" cy="257.9" r="1.1"/>
<text class="t" x="23.7" y="277.5" text-anchor="end">0</text>
<text class="t" x="23.7" y="258.28" text-anchor="end">0.2</text>
<text class="t" x="23.7" y="239.06" text-anchor="end">0.4</text>
<text class="t" x="23.7" y="219.84" text-anchor="end">0.6</text>
<text class="t" x="23.7" y="200.62" text-anchor="end">0.8</text>
<text class="t" x="23.7" y="181.4" text-anchor="end">1</text>
<text class="t" x="24.8" y="299.5" text-anchor="middle">0</text>
<text class="t" x="48.25" y="299.5" text-anchor="middle">5</text>
<text class="t" x="71.7" y="299.5" text-anchor="middle">10</text>
<text class="t" x="95.15" y="299.5" text-anchor="middle">15</text>
<text class="t" x="118.6" y="299.5" text-anchor="middle">20</text>
<text class="t" x="142.05" y="299.5" text-anchor="middle">25</text>
<text class="t" x="165.5" y="299.5" text-anchor="middle">30</text>
<text class="t" x="188.95" y="299.5" text-anchor="middle">35</text>
<text class="t" x="212.4" y="299.5" text-anchor="middle">40</text>
<text class="t" x="235.85" y="299.5" text-anchor="middle">45</text>
<text class="t" x="259.3" y="299.5" text-anchor="middle">50</text>
<text class="t" x="142.6" y="305.6" text-anchor="middle">Lag</text>
<text class="t" x="144.5" y="312.5" text-anchor="middle">Sample Autocorrelation Function</text>
<text class="t" transform="translate(13.9 235.6) rotate(-90)" text-anchor="middle">Sample Autocorrelation</text>
<text class="lt" x="135.2" y="335" text-anchor="middle">(<tspan font-weight="bold">c</tspan>)</text>
<line class="gr" x1="324.15" y1="176.6" x2="324.15" y2="293.5"/>
<line class="gr" x1="347.9" y1="176.6" x2="347.9" y2="293.5"/>
<line class="gr" x1="371.65" y1="176.6" x2="371.65" y2="293.5"/>
<line class="gr" x1="395.4" y1="176.6" x2="395.4" y2="293.5"/>
<line class="gr" x1="419.15" y1="176.6" x2="419.15" y2="293.5"/>
<line class="gr" x1="442.9" y1="176.6" x2="442.9" y2="293.5"/>
<line class="gr" x1="466.65" y1="176.6" x2="466.65" y2="293.5"/>
<line class="gr" x1="490.4" y1="176.6" x2="490.4" y2="293.5"/>
<line class="gr" x1="514.15" y1="176.6" x2="514.15" y2="293.5"/>
<line class="gr" x1="300.4" y1="254.84" x2="537.9" y2="254.84"/>
<line class="gr" x1="300.4" y1="235.28" x2="537.9" y2="235.28"/>
<line class="gr" x1="300.4" y1="215.72" x2="537.9" y2="215.72"/>
<line class="gr" x1="300.4" y1="196.16" x2="537.9" y2="196.16"/>
<line class="tk" x1="300.4" y1="293.5" x2="300.4" y2="291.2"/>
<line class="tk" x1="300.4" y1="176.6" x2="300.4" y2="178.9"/>
<line class="tk" x1="324.15" y1="293.5" x2="324.15" y2="291.2"/>
<line class="tk" x1="324.15" y1="176.6" x2="324.15" y2="178.9"/>
<line class="tk" x1="347.9" y1="293.5" x2="347.9" y2="291.2"/>
<line class="tk" x1="347.9" y1="176.6" x2="347.9" y2="178.9"/>
<line class="tk" x1="371.65" y1="293.5" x2="371.65" y2="291.2"/>
<line class="tk" x1="371.65" y1="176.6" x2="371.65" y2="178.9"/>
<line class="tk" x1="395.4" y1="293.5" x2="395.4" y2="291.2"/>
<line class="tk" x1="395.4" y1="176.6" x2="395.4" y2="178.9"/>
<line class="tk" x1="419.15" y1="293.5" x2="419.15" y2="291.2"/>
<line class="tk" x1="419.15" y1="176.6" x2="419.15" y2="178.9"/>
<line class="tk" x1="442.9" y1="293.5" x2="442.9" y2="291.2"/>
<line class="tk" x1="442.9" y1="176.6" x2="442.9" y2="178.9"/>
<line class="tk" x1="466.65" y1="293.5" x2="466.65" y2="291.2"/>
<line class="tk" x1="466.65" y1="176.6" x2="466.65" y2="178.9"/>
<line class="tk" x1="490.4" y1="293.5" x2="490.4" y2="291.2"/>
<line class="tk" x1="490.4" y1="176.6" x2="490.4" y2="178.9"/>
<line class="tk" x1="514.15" y1="293.5" x2="514.15" y2="291.2"/>
<line class="tk" x1="514.15" y1="176.6" x2="514.15" y2="178.9"/>
<line class="tk" x1="537.9" y1="293.5" x2="537.9" y2="291.2"/>
<line class="tk" x1="537.9" y1="176.6" x2="537.9" y2="178.9"/>
<line class="tk" x1="300.4" y1="274.4" x2="302.7" y2="274.4"/>
<line class="tk" x1="537.9" y1="274.4" x2="535.6" y2="274.4"/>
<line class="tk" x1="300.4" y1="254.84" x2="302.7" y2="254.84"/>
<line class="tk" x1="537.9" y1="254.84" x2="535.6" y2="254.84"/>
<line class="tk" x1="300.4" y1="235.28" x2="302.7" y2="235.28"/>
<line class="tk" x1="537.9" y1="235.28" x2="535.6" y2="235.28"/>
<line class="tk" x1="300.4" y1="215.72" x2="302.7" y2="215.72"/>
<line class="tk" x1="537.9" y1="215.72" x2="535.6" y2="215.72"/>
<line class="tk" x1="300.4" y1="196.16" x2="302.7" y2="196.16"/>
<line class="tk" x1="537.9" y1="196.16" x2="535.6" y2="196.16"/>
<line class="tk" x1="300.4" y1="176.6" x2="302.7" y2="176.6"/>
<line class="tk" x1="537.9" y1="176.6" x2="535.6" y2="176.6"/>
<rect class="bx" x="300.4" y="176.6" width="237.5" height="116.9"/>
<line class="bl" x1="300.4" y1="274.4" x2="537.9" y2="274.4"/>
<line class="st" x1="300.4" y1="274.4" x2="300.4" y2="176.5"/>
<line class="st" x1="305.15" y1="274.4" x2="305.15" y2="184.3"/>
<line class="st" x1="309.9" y1="274.4" x2="309.9" y2="292.3"/>
<line class="st" x1="314.65" y1="274.4" x2="314.65" y2="262.8"/>
<line class="st" x1="319.4" y1="274.4" x2="319.4" y2="270.6"/>
<line class="st" x1="324.15" y1="274.4" x2="324.15" y2="268.6"/>
<line class="st" x1="328.9" y1="274.4" x2="328.9" y2="271.2"/>
<line class="st" x1="333.65" y1="274.4" x2="333.65" y2="273.3"/>
<line class="st" x1="338.4" y1="274.4" x2="338.4" y2="272.4"/>
<line class="st" x1="343.15" y1="274.4" x2="343.15" y2="271"/>
<line class="st" x1="347.9" y1="274.4" x2="347.9" y2="273.6"/>
<line class="st" x1="352.65" y1="274.4" x2="352.65" y2="273.6"/>
<line class="st" x1="357.4" y1="274.4" x2="357.4" y2="273"/>
<line class="st" x1="362.15" y1="274.4" x2="362.15" y2="274.7"/>
<line class="st" x1="366.9" y1="274.4" x2="366.9" y2="273.4"/>
<line class="st" x1="371.65" y1="274.4" x2="371.65" y2="270.7"/>
<line class="st" x1="376.4" y1="274.4" x2="376.4" y2="273.2"/>
<line class="st" x1="381.15" y1="274.4" x2="381.15" y2="272.3"/>
<line class="st" x1="385.9" y1="274.4" x2="385.9" y2="271.4"/>
<line class="st" x1="390.65" y1="274.4" x2="390.65" y2="273.2"/>
<line class="st" x1="395.4" y1="274.4" x2="395.4" y2="273.8"/>
<line class="st" x1="400.15" y1="274.4" x2="400.15" y2="273.8"/>
<line class="st" x1="404.9" y1="274.4" x2="404.9" y2="273.6"/>
<line class="st" x1="409.65" y1="274.4" x2="409.65" y2="275.5"/>
<line class="st" x1="414.4" y1="274.4" x2="414.4" y2="274.3"/>
<line class="st" x1="419.15" y1="274.4" x2="419.15" y2="274.4"/>
<line class="st" x1="423.9" y1="274.4" x2="423.9" y2="274.8"/>
<line class="st" x1="428.65" y1="274.4" x2="428.65" y2="273.6"/>
<line class="st" x1="433.4" y1="274.4" x2="433.4" y2="273.4"/>
<line class="st" x1="438.15" y1="274.4" x2="438.15" y2="273.5"/>
<line class="st" x1="442.9" y1="274.4" x2="442.9" y2="273"/>
<line class="st" x1="447.65" y1="274.4" x2="447.65" y2="272.9"/>
<line class="st" x1="452.4" y1="274.4" x2="452.4" y2="272.5"/>
<line class="st" x1="457.15" y1="274.4" x2="457.15" y2="274.5"/>
<line class="st" x1="461.9" y1="274.4" x2="461.9" y2="272"/>
<line class="st" x1="466.65" y1="274.4" x2="466.65" y2="273.8"/>
<line class="st" x1="471.4" y1="274.4" x2="471.4" y2="275.3"/>
<line class="st" x1="476.15" y1="274.4" x2="476.15" y2="274.4"/>
<line class="st" x1="480.9" y1="274.4" x2="480.9" y2="274.7"/>
<line class="st" x1="485.65" y1="274.4" x2="485.65" y2="273.6"/>
<line class="st" x1="490.4" y1="274.4" x2="490.4" y2="273.8"/>
<line class="st" x1="495.15" y1="274.4" x2="495.15" y2="274.3"/>
<line class="st" x1="499.9" y1="274.4" x2="499.9" y2="273.6"/>
<line class="st" x1="504.65" y1="274.4" x2="504.65" y2="275.7"/>
<line class="st" x1="509.4" y1="274.4" x2="509.4" y2="273.4"/>
<line class="st" x1="514.15" y1="274.4" x2="514.15" y2="275.7"/>
<line class="st" x1="518.9" y1="274.4" x2="518.9" y2="274.3"/>
<line class="st" x1="523.65" y1="274.4" x2="523.65" y2="274.7"/>
<line class="st" x1="528.4" y1="274.4" x2="528.4" y2="273.6"/>
<line class="st" x1="533.15" y1="274.4" x2="533.15" y2="273.6"/>
<line class="st" x1="537.9" y1="274.4" x2="537.9" y2="274.5"/>
<line style="mix-blend-mode:multiply" stroke="#c8c8ff" stroke-width="1.6" x1="302.77" y1="272.7" x2="537.9" y2="272.7"/>
<line style="mix-blend-mode:multiply" stroke="#dcdcff" stroke-width="1.3" x1="302.77" y1="275.9" x2="537.9" y2="275.9"/>
<circle class="mk" cx="300.4" cy="176.5" r="1.1"/>
<circle class="mk" cx="305.15" cy="184.3" r="1.1"/>
<circle class="mk" cx="309.9" cy="292.3" r="1.1"/>
<circle class="mk" cx="314.65" cy="262.8" r="1.1"/>
<circle class="mk" cx="319.4" cy="270.6" r="1.1"/>
<circle class="mk" cx="324.15" cy="268.6" r="1.1"/>
<circle class="mk" cx="328.9" cy="271.2" r="1.1"/>
<circle class="mk" cx="333.65" cy="273.3" r="1.1"/>
<circle class="mk" cx="338.4" cy="272.4" r="1.1"/>
<circle class="mk" cx="343.15" cy="271" r="1.1"/>
<circle class="mk" cx="347.9" cy="273.6" r="1.1"/>
<circle class="mk" cx="352.65" cy="273.6" r="1.1"/>
<circle class="mk" cx="357.4" cy="273" r="1.1"/>
<circle class="mk" cx="362.15" cy="274.7" r="1.1"/>
<circle class="mk" cx="366.9" cy="273.4" r="1.1"/>
<circle class="mk" cx="371.65" cy="270.7" r="1.1"/>
<circle class="mk" cx="376.4" cy="273.2" r="1.1"/>
<circle class="mk" cx="381.15" cy="272.3" r="1.1"/>
<circle class="mk" cx="385.9" cy="271.4" r="1.1"/>
<circle class="mk" cx="390.65" cy="273.2" r="1.1"/>
<circle class="mk" cx="395.4" cy="273.8" r="1.1"/>
<circle class="mk" cx="400.15" cy="273.8" r="1.1"/>
<circle class="mk" cx="404.9" cy="273.6" r="1.1"/>
<circle class="mk" cx="409.65" cy="275.5" r="1.1"/>
<circle class="mk" cx="414.4" cy="274.3" r="1.1"/>
<circle class="mk" cx="419.15" cy="274.4" r="1.1"/>
<circle class="mk" cx="423.9" cy="274.8" r="1.1"/>
<circle class="mk" cx="428.65" cy="273.6" r="1.1"/>
<circle class="mk" cx="433.4" cy="273.4" r="1.1"/>
<circle class="mk" cx="438.15" cy="273.5" r="1.1"/>
<circle class="mk" cx="442.9" cy="273" r="1.1"/>
<circle class="mk" cx="447.65" cy="272.9" r="1.1"/>
<circle class="mk" cx="452.4" cy="272.5" r="1.1"/>
<circle class="mk" cx="457.15" cy="274.5" r="1.1"/>
<circle class="mk" cx="461.9" cy="272" r="1.1"/>
<circle class="mk" cx="466.65" cy="273.8" r="1.1"/>
<circle class="mk" cx="471.4" cy="275.3" r="1.1"/>
<circle class="mk" cx="476.15" cy="274.4" r="1.1"/>
<circle class="mk" cx="480.9" cy="274.7" r="1.1"/>
<circle class="mk" cx="485.65" cy="273.6" r="1.1"/>
<circle class="mk" cx="490.4" cy="273.8" r="1.1"/>
<circle class="mk" cx="495.15" cy="274.3" r="1.1"/>
<circle class="mk" cx="499.9" cy="273.6" r="1.1"/>
<circle class="mk" cx="504.65" cy="275.7" r="1.1"/>
<circle class="mk" cx="509.4" cy="273.4" r="1.1"/>
<circle class="mk" cx="514.15" cy="275.7" r="1.1"/>
<circle class="mk" cx="518.9" cy="274.3" r="1.1"/>
<circle class="mk" cx="523.65" cy="274.7" r="1.1"/>
<circle class="mk" cx="528.4" cy="273.6" r="1.1"/>
<circle class="mk" cx="533.15" cy="273.6" r="1.1"/>
<circle class="mk" cx="537.9" cy="274.5" r="1.1"/>
<text class="t" x="299.3" y="277.4" text-anchor="end">0</text>
<text class="t" x="299.3" y="257.84" text-anchor="end">0.2</text>
<text class="t" x="299.3" y="238.28" text-anchor="end">0.4</text>
<text class="t" x="299.3" y="218.72" text-anchor="end">0.6</text>
<text class="t" x="299.3" y="199.16" text-anchor="end">0.8</text>
<text class="t" x="299.3" y="179.6" text-anchor="end">1</text>
<text class="t" x="300.4" y="299.9" text-anchor="middle">0</text>
<text class="t" x="324.15" y="299.9" text-anchor="middle">5</text>
<text class="t" x="347.9" y="299.9" text-anchor="middle">10</text>
<text class="t" x="371.65" y="299.9" text-anchor="middle">15</text>
<text class="t" x="395.4" y="299.9" text-anchor="middle">20</text>
<text class="t" x="419.15" y="299.9" text-anchor="middle">25</text>
<text class="t" x="442.9" y="299.9" text-anchor="middle">30</text>
<text class="t" x="466.65" y="299.9" text-anchor="middle">35</text>
<text class="t" x="490.4" y="299.9" text-anchor="middle">40</text>
<text class="t" x="514.15" y="299.9" text-anchor="middle">45</text>
<text class="t" x="537.9" y="299.9" text-anchor="middle">50</text>
<text class="t" x="419.7" y="305.4" text-anchor="middle">Lag</text>
<text class="t" x="422" y="312.9" text-anchor="middle">Sample Partial Autocorrelation Function</text>
<text class="t" transform="translate(289.2 236) rotate(-90)" text-anchor="middle">Sample Partial Autocorrelations</text>
<text class="lt" x="411.2" y="335" text-anchor="middle">(<tspan font-weight="bold">d</tspan>)</text>
<circle cx="200.2" cy="281.1" r="0.85" fill="#222"/>
</svg></body></html>
